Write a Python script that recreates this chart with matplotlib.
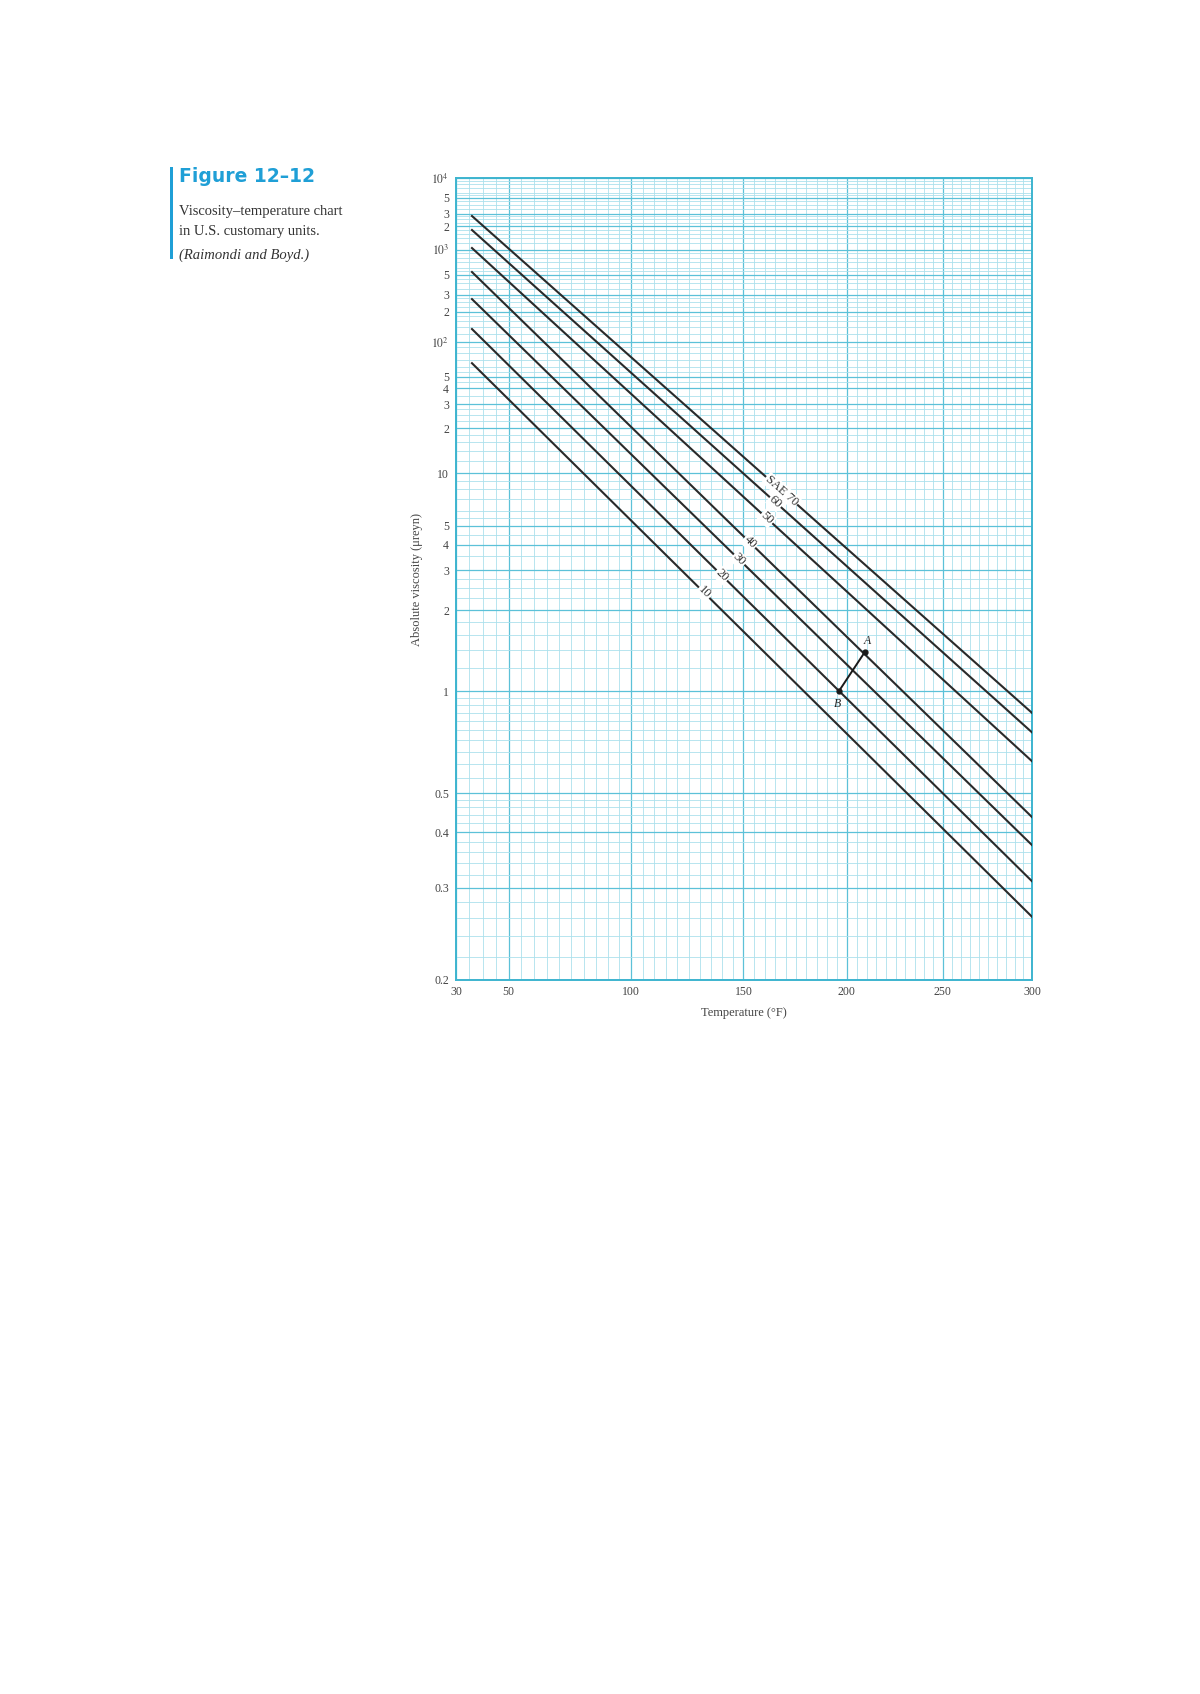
# -*- coding: utf-8 -*-
"""
Viscosity-temperature chart in U.S. customary units (Raimondi and Boyd)
Straight lines on a log-log(viscosity) vs log(absolute temperature) grid
"""
import numpy as np
import matplotlib
matplotlib.use('Agg')
import matplotlib.pyplot as plt
from matplotlib.patches import Rectangle
from matplotlib.ticker import NullFormatter

plt.rcParams['font.family'] = ['Liberation Serif', 'DejaVu Serif']
plt.rcParams['mathtext.fontset'] = 'stix'

#%% Data #####################################################################

grades = ['SAE 70', '60', '50', '40', '30', '20', '10']
line_temps = [36, 300]                                  # deg F, ends of every line
visc_cold = [2770, 1790, 1050, 540, 270, 134, 65]       # ureyn at 36 F
visc_hot = [0.85, 0.74, 0.61, 0.435, 0.373, 0.31, 0.262]  # ureyn at 300 F
label_temps = [168, 165, 161, 153, 148, 140, 132]       # where the grade name sits

point_names = ['A', 'B']
point_temps = [209, 196]
point_visc = [1.37, 1.0]

xtick_vals = [30, 50, 100, 150, 200, 250, 300]
ytick_vals = [1e4, 5e3, 3e3, 2e3, 1e3, 500, 300, 200, 100, 50, 40, 30, 20,
              10, 5, 4, 3, 2, 1, 0.5, 0.4, 0.3, 0.2]
ytick_labels = ['$10^4$', '5', '3', '2', '$10^3$', '5', '3', '2', '$10^2$',
                '5', '4', '3', '2', '10', '5', '4', '3', '2', '1',
                '0.5', '0.4', '0.3', '0.2']

#%% Scales ###################################################################

def visc_fwd(v):
    """ Walther type axis: log log (9 v + 0.7) """
    v = np.asarray(v, dtype=float)
    inner = np.log10(np.maximum(9.0 * v + 0.7, 1.0001))
    return np.log10(inner)

def visc_inv(y):
    y = np.asarray(y, dtype=float)
    with np.errstate(over='ignore'):
        return (10 ** (10 ** np.minimum(y, 1.5)) - 0.7) / 9.0

def temp_fwd(t):
    """ log of absolute temperature (Rankine) """
    t = np.asarray(t, dtype=float)
    return np.log10(np.maximum(t + 460.0, 1.0))

def temp_inv(z):
    return 10 ** np.asarray(z, dtype=float) - 460.0

#%% Plot #####################################################################

grid_minor = '#ace0ec'
grid_major = '#5cc1d8'
cyan = '#1f9fd6'

fig = plt.figure(figsize=(12, 16.94), dpi=100)
ax = fig.add_axes([0.38, 0.4215, 0.48, 0.4734])

ax.set_xscale('function', functions=(temp_fwd, temp_inv))
ax.set_yscale('function', functions=(visc_fwd, visc_inv))
ax.set_xlim(30, 300)
ax.set_ylim(0.2, 1e4)

# ticks / grid
pattern = [1.2, 1.4, 1.6, 1.8, 2.25, 2.5, 2.75, 3.5, 4, 4.5, 5.5, 6, 7, 8, 9]
minor_y = [m * 10 ** k for k in range(4) for m in pattern]
minor_y += list(np.arange(0.22, 0.5, 0.02)) + list(np.arange(0.55, 1.0, 0.05))

ax.set_xticks(xtick_vals)
ax.set_xticks(np.arange(35, 300, 5), minor=True)
ax.set_yticks(ytick_vals, labels=ytick_labels)
ax.set_yticks(minor_y, minor=True)
ax.xaxis.set_minor_formatter(NullFormatter())
ax.yaxis.set_minor_formatter(NullFormatter())

ax.tick_params(which='both', length=0, labelsize=8.5, labelcolor='#444')
ax.tick_params(axis='y', pad=5)
ax.tick_params(axis='x', pad=4)
ax.grid(which='minor', color=grid_minor, lw=0.6)
ax.grid(which='major', color=grid_major, lw=0.9)
ax.set_axisbelow(True)
for s in ax.spines.values():
    s.set_color('#3db4cf')
    s.set_linewidth(1.4)

# SAE grade lines
for i, g in enumerate(grades):
    v_pair = [visc_cold[i], visc_hot[i]]
    ax.plot(line_temps, v_pair, color='#2a2a2a', lw=1.5, zorder=3)

    # label along the line
    p0 = ax.transData.transform((line_temps[0], v_pair[0]))
    p1 = ax.transData.transform((line_temps[1], v_pair[1]))
    xd = ax.transData.transform((label_temps[i], 1.0))[0]
    frac = (xd - p0[0]) / (p1[0] - p0[0])
    yd = p0[1] + frac * (p1[1] - p0[1])
    tx, ty = ax.transData.inverted().transform((xd, yd))
    angle = np.degrees(np.arctan2(p1[1] - p0[1], p1[0] - p0[0]))
    ax.text(tx, ty, g, rotation=angle, rotation_mode='anchor',
            ha='center', va='center', fontsize=9, color='#333',
            bbox=dict(fc='white', ec='none', pad=0.8), zorder=4)

# example points A and B
ax.plot(point_temps, point_visc, color='#1a1a1a', lw=1.4, marker='o',
        ms=3.5, zorder=5)
ax.annotate(point_names[0], (point_temps[0], point_visc[0]),
            xytext=(3, 11), textcoords='offset pixels', ha='center',
            va='center', fontsize=8.5, style='italic', color='#222')
ax.annotate(point_names[1], (point_temps[1], point_visc[1]),
            xytext=(-1, -13), textcoords='offset pixels', ha='center',
            va='center', fontsize=8.5, style='italic', color='#222')

ax.set_xlabel('Temperature (°F)', fontsize=9, color='#444', labelpad=7)
ax.set_ylabel('Absolute viscosity (μreyn)', fontsize=9, color='#444',
              labelpad=6)

#%% Caption ##################################################################

fig.add_artist(Rectangle((170 / 1200, 1 - 259 / 1694), 3 / 1200, 92 / 1694,
                         transform=fig.transFigure, color=cyan, lw=0))
fig.text(179 / 1200, 1 - 176 / 1694, 'Figure 12–12', family='DejaVu Sans',
         weight='bold', size=13.5, color=cyan, va='center', ha='left')
fig.text(179 / 1200, 1 - 212 / 1694, 'Viscosity–temperature chart',
         size=10.5, color='#333', va='center', ha='left')
fig.text(179 / 1200, 1 - 232 / 1694, 'in U.S. customary units.',
         size=10.5, color='#333', va='center', ha='left')
fig.text(179 / 1200, 1 - 255 / 1694, '(Raimondi and Boyd.)',
         size=10.5, style='italic', color='#333', va='center', ha='left')

fig.savefig('out.png', dpi=100, facecolor='white')
